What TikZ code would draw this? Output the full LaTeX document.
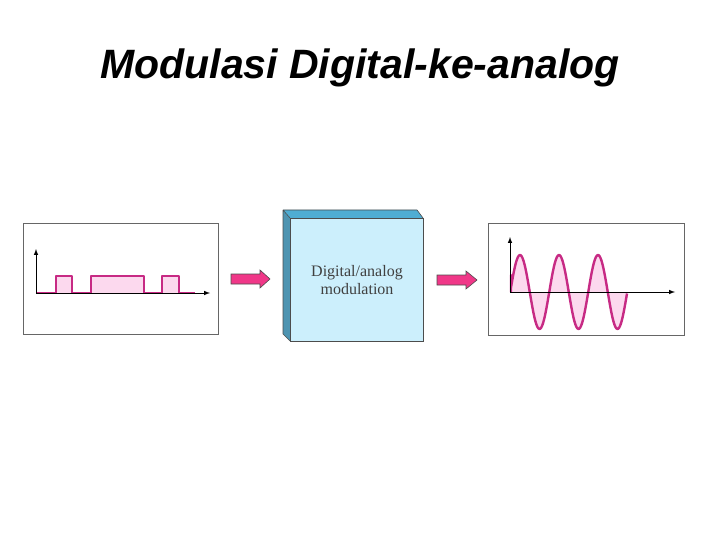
\documentclass[tikz,border=0pt]{standalone}
\usepackage{fontspec}
\setmainfont{Liberation Serif}
\newfontfamily\titlefont{Liberation Sans}
\begin{document}
\begin{tikzpicture}[x=1pt,y=-1pt,
  panel/.style={draw=black!60,line width=0.8pt,fill=white},
  sig/.style={draw=magenta!80!black,line width=2.6pt,line join=round},
  sigfill/.style={fill=magenta!15},
  axis/.style={draw=black,line width=1pt,-latex},
  bigarrow/.style={draw=black!70,line width=0.6pt,fill=magenta!75!red!80}]
\useasboundingbox (0,0) rectangle (720,540);
\node[font=\titlefont\bfseries\itshape\fontsize{41}{48}\selectfont] (title) at (360,68) {Modulasi Digital-ke-analog};
% left panel
\node[panel,minimum width=195pt,minimum height=111pt,inner sep=0pt,anchor=north west] (lp) at (23,223) {};
\fill[sigfill] (56,293) rectangle (72,276) (91,293) rectangle (144,276) (162,293) rectangle (179,276);
\draw[sig] (36,293) -- (56,293) -- (56,276) -- (72,276) -- (72,293) -- (91,293) -- (91,276) -- (144,276) -- (144,293) -- (162,293) -- (162,276) -- (179,276) -- (179,293) -- (195,293);
\draw[axis] (36,293) -- (36,249);
\draw[axis] (36,293) -- (210,293);
% middle block
\fill[cyan!60!teal!80!black!90] (283,210) -- (290,218) -- (290,341) -- (283,334) -- cycle;
\fill[cyan!60!teal!80] (283,210) -- (417,210) -- (423,218) -- (290,218) -- cycle;
\draw[black!70,line width=0.6pt] (283,210) -- (417,210) -- (423,218) (283,210) -- (283,334) -- (290,341) (283,210)--(290,218);
\node[draw=black!70,line width=0.6pt,fill=cyan!20,minimum width=133pt,minimum height=123pt,inner sep=0pt,anchor=north west] (mb) at (290,218) {};
\node[align=center,font=\fontsize{16}{18}\selectfont,text=black!75] (mt) at (357,280) {Digital/analog\\modulation};
% arrows
\draw[bigarrow] (231,274) -- (260,274) -- (260,270) -- (270,279) -- (260,288) -- (260,284) -- (231,284) -- cycle;
\draw[bigarrow] (437,275) -- (466,275) -- (466,271) -- (477,280) -- (466,289) -- (466,285) -- (437,285) -- cycle;
% right panel
\node[panel,minimum width=196pt,minimum height=112pt,inner sep=0pt,anchor=north west] (rp) at (488,223) {};
\fill[sigfill] plot[domain=511:627,samples=120,smooth] (\x,{292-37*cos((\x-520)/39*360)}) -- (627,292) -- (511,292) -- cycle;
\draw[sig,line width=2.4pt] (511,292) -- (511,275) -- plot[domain=511:627,samples=120,smooth] (\x,{292-37*cos((\x-520)/39*360)});
\draw[axis] (510,292) -- (510,237);
\draw[axis] (510,292) -- (675,292);
\end{tikzpicture}
\end{document}
